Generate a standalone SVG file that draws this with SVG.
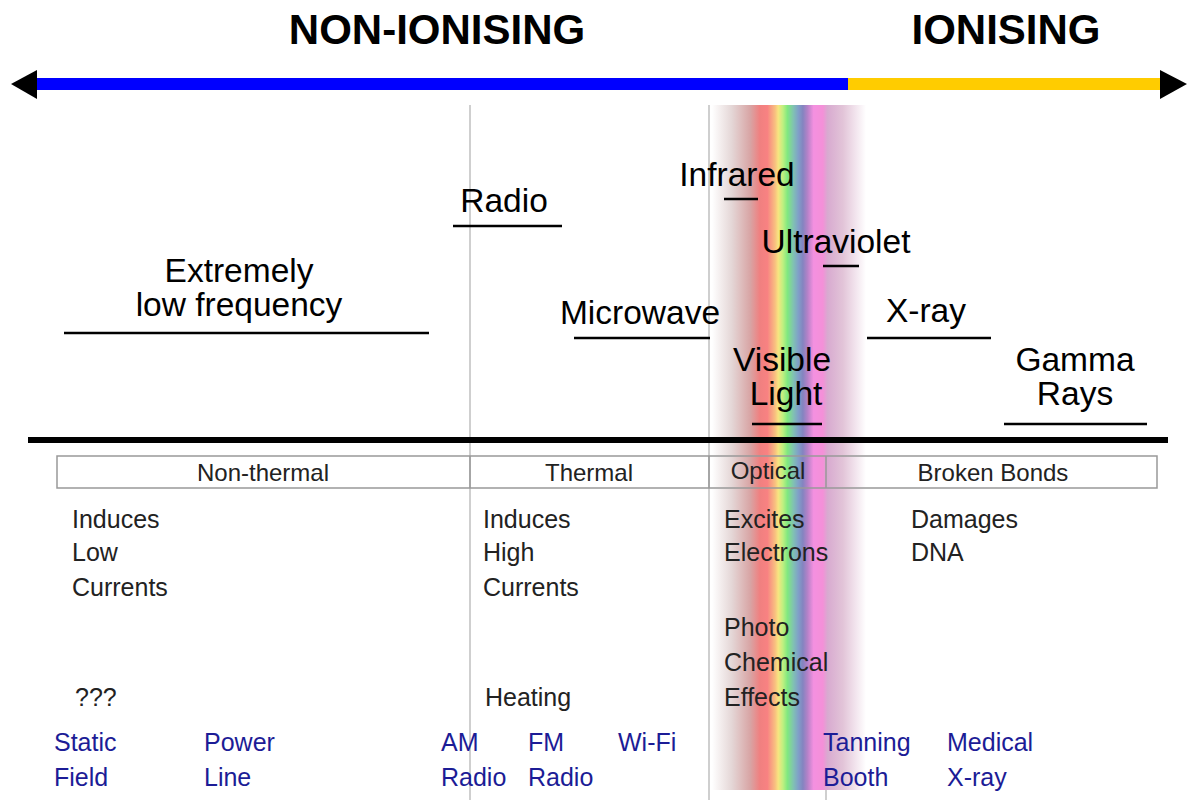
<svg xmlns="http://www.w3.org/2000/svg" width="1200" height="800" viewBox="0 0 1200 800">
<style>
.t{font-family:"Liberation Sans",Arial,sans-serif;fill:#111}
.title{font-size:42px;font-weight:bold;text-anchor:middle;fill:#000}
.big{font-size:33.5px;text-anchor:middle;fill:#000}
.hdr{font-size:24px;text-anchor:middle;fill:#222}
.body{font-size:25px;fill:#222}
.ex{font-size:25px;fill:#1c1c96}
.ul{stroke:#000;stroke-width:2.5}
.vl{stroke:#cfcfcf;stroke-width:2}
</style>
<defs>
<linearGradient id="rainbow" x1="712" y1="0" x2="866" y2="0" gradientUnits="userSpaceOnUse">
<stop offset="0" stop-color="#ffffff"/>
<stop offset="0.13" stop-color="#e4d6d6"/>
<stop offset="0.25" stop-color="#d8a4a4"/>
<stop offset="0.31" stop-color="#f08080"/>
<stop offset="0.36" stop-color="#f88282"/>
<stop offset="0.41" stop-color="#f8c080"/>
<stop offset="0.43" stop-color="#f8e480"/>
<stop offset="0.46" stop-color="#c0f080"/>
<stop offset="0.49" stop-color="#80e880"/>
<stop offset="0.53" stop-color="#80c0b4"/>
<stop offset="0.56" stop-color="#80a0c8"/>
<stop offset="0.59" stop-color="#8484c0"/>
<stop offset="0.62" stop-color="#b482c8"/>
<stop offset="0.66" stop-color="#f490e0"/>
<stop offset="0.72" stop-color="#f490d8"/>
<stop offset="0.75" stop-color="#d8aad0"/>
<stop offset="0.85" stop-color="#e2c4d8"/>
<stop offset="1" stop-color="#ffffff"/>
</linearGradient>
</defs>
<rect width="1200" height="800" fill="#fff"/>

<g id="titles">
<text class="t title" x="437" y="44">NON-IONISING</text>
<text class="t title" x="1006" y="44">IONISING</text>
</g>

<g id="axis">
<line x1="37" y1="84" x2="850" y2="84" stroke="#0000ff" stroke-width="12"/>
<line x1="848" y1="84" x2="1161" y2="84" stroke="#ffcc00" stroke-width="12"/>
<path d="M11,84 L37,70 L37,99 z" fill="#000"/>
<path d="M1187,84 L1160,70 L1160,99 z" fill="#000"/>
</g>

<g id="dividers">
<line class="vl" x1="470" y1="105" x2="470" y2="800"/>
<line class="vl" x1="709" y1="105" x2="709" y2="800"/>
<line class="vl" x1="826" y1="105" x2="826" y2="800"/>
</g>

<rect id="spectrum" x="712" y="105" width="154" height="685" fill="url(#rainbow)"/>

<line id="baseline" x1="28" y1="440" x2="1168" y2="440" stroke="#000" stroke-width="6"/>

<g id="table">
<rect x="57" y="456" width="1100" height="32" fill="none" stroke="#999" stroke-width="1.5"/>
<line x1="470" y1="456" x2="470" y2="488" stroke="#999" stroke-width="1.5"/>
<line x1="709" y1="456" x2="709" y2="488" stroke="#999" stroke-width="1.5"/>
<line x1="826" y1="456" x2="826" y2="488" stroke="#999" stroke-width="1.5"/>
<text class="t hdr" x="263" y="481">Non-thermal</text>
<text class="t hdr" x="589" y="481">Thermal</text>
<text class="t hdr" x="768" y="479">Optical</text>
<text class="t hdr" x="993" y="481">Broken Bonds</text>
</g>

<g id="elf">
<text class="t big" x="239" y="282">Extremely</text>
<text class="t big" x="239" y="316">low frequency</text>
<line class="ul" x1="64" y1="333" x2="429" y2="333"/>
</g>
<g id="radio">
<text class="t big" x="504" y="212">Radio</text>
<line class="ul" x1="453" y1="226" x2="562" y2="226"/>
</g>
<g id="microwave">
<text class="t big" x="640" y="324">Microwave</text>
<line class="ul" x1="574" y1="338" x2="710" y2="338"/>
</g>
<g id="infrared">
<text class="t big" x="737" y="186">Infrared</text>
<line class="ul" x1="724" y1="199" x2="758" y2="199"/>
</g>
<g id="visible">
<text class="t big" x="782" y="371">Visible</text>
<text class="t big" x="786" y="405">Light</text>
<line class="ul" x1="752" y1="424" x2="822" y2="424"/>
</g>
<g id="ultraviolet">
<text class="t big" x="836" y="253">Ultraviolet</text>
<line class="ul" x1="823" y1="266" x2="859" y2="266"/>
</g>
<g id="xray">
<text class="t big" x="926" y="322">X-ray</text>
<line class="ul" x1="867" y1="338" x2="991" y2="338"/>
</g>
<g id="gamma">
<text class="t big" x="1075" y="371">Gamma</text>
<text class="t big" x="1075" y="405">Rays</text>
<line class="ul" x1="1004" y1="424" x2="1147" y2="424"/>
</g>

<g id="effects">
<text class="t body" x="72" y="528">Induces</text>
<text class="t body" x="72" y="561">Low</text>
<text class="t body" x="72" y="596">Currents</text>
<text class="t body" x="75" y="706">???</text>
<text class="t body" x="483" y="528">Induces</text>
<text class="t body" x="483" y="561">High</text>
<text class="t body" x="483" y="596">Currents</text>
<text class="t body" x="485" y="706">Heating</text>
<text class="t body" x="724" y="528">Excites</text>
<text class="t body" x="724" y="561">Electrons</text>
<text class="t body" x="724" y="636">Photo</text>
<text class="t body" x="724" y="671">Chemical</text>
<text class="t body" x="724" y="706">Effects</text>
<text class="t body" x="911" y="528">Damages</text>
<text class="t body" x="911" y="561">DNA</text>
</g>

<g id="examples">
<text class="t ex" x="54" y="751">Static</text>
<text class="t ex" x="54" y="786">Field</text>
<text class="t ex" x="204" y="751">Power</text>
<text class="t ex" x="204" y="786">Line</text>
<text class="t ex" x="441" y="751">AM</text>
<text class="t ex" x="441" y="786">Radio</text>
<text class="t ex" x="528" y="751">FM</text>
<text class="t ex" x="528" y="786">Radio</text>
<text class="t ex" x="618" y="751">Wi-Fi</text>
<text class="t ex" x="823" y="751">Tanning</text>
<text class="t ex" x="823" y="786">Booth</text>
<text class="t ex" x="947" y="751">Medical</text>
<text class="t ex" x="947" y="786">X-ray</text>
</g>
</svg>
